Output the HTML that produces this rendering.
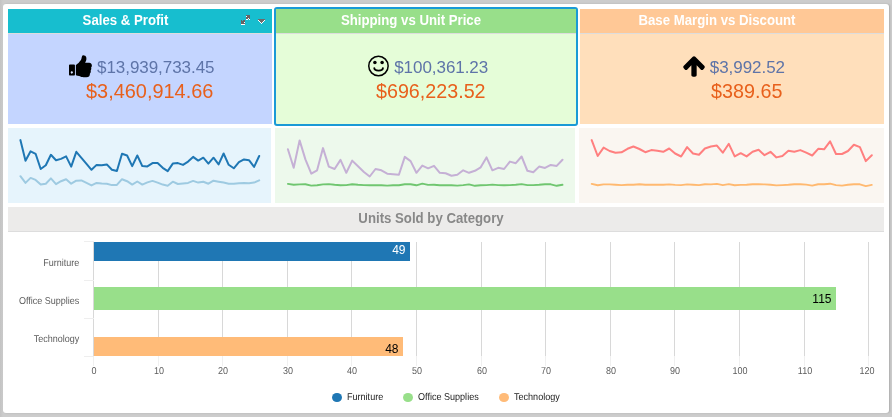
<!DOCTYPE html>
<html>
<head>
<meta charset="utf-8">
<title>Dashboard</title>
<style>
html,body{margin:0;padding:0;}
body{width:892px;height:417px;background:#ccc linear-gradient(90deg,#c3c3c3,#ccc 3px,#ccc);overflow:hidden;position:relative;font-family:"Liberation Sans",Arial,Helvetica,sans-serif;}
#card *{position:absolute;}
#card{position:absolute;left:3px;top:4px;width:886px;height:409px;background:#fff;border-radius:3px;box-shadow:1px 0 2px rgba(0,0,0,.16);}
#wrap{left:-3px;top:-4px;width:892px;height:417px;}
.hd{height:24px;top:9px;border-bottom:1px solid #ddd;}
.tt{top:0;left:0;height:24px;color:#fff;font-weight:bold;font-size:14px;line-height:23px;text-align:center;white-space:nowrap;transform:scaleX(.943);}
.bd{top:34px;height:90px;}
.sp{top:128px;height:75px;}
.v1{font-size:17px;line-height:20px;color:#5e74a8;white-space:nowrap;letter-spacing:-0.05px;}
.v2{font-size:21px;line-height:24px;color:#e8601c;white-space:nowrap;transform:scaleX(.948);transform-origin:0 0;}
svg{overflow:visible;left:0;top:0;}
svg *{position:static !important;}
.gl{top:242px;width:1px;height:114px;background:#d8d8d8;}
.gt{top:356px;width:1px;height:10px;background:#f0f0f0;}
.tk{left:84px;width:10px;height:1px;background:#eee;}
.xl,.yl,.lg{text-rendering:geometricPrecision;}
.xl{top:366px;width:40px;text-align:center;font-size:10px;line-height:12px;color:#5c5c5c;transform:scaleX(.9);}
.yl{left:0;width:79.3px;text-align:right;font-size:10px;line-height:12px;color:#5c5c5c;white-space:nowrap;transform:scaleX(.9);transform-origin:100% 50%;}
.bar{left:94px;}
.bv{font-size:12px;line-height:14px;text-align:right;width:40px;}
.lg{top:391.5px;font-size:10px;line-height:12px;color:#222;white-space:nowrap;transform:scaleX(.905);transform-origin:0 50%;}
.dot{top:392.8px;width:10px;height:9.3px;border-radius:50%;}
</style>
</head>
<body>
<div id="card"><div id="wrap">

<!-- panel 1 -->
<div class="hd" style="left:8px;width:264px;background:#17becf;"><div class="tt" style="width:235px;">Sales &amp; Profit</div></div>
<div class="bd" style="left:8px;width:264px;background:#c4d5ff;"></div>
<div class="v1" style="left:97px;top:58px;">$13,939,733.45</div>
<div class="v2" style="left:86px;top:78.6px;">$3,460,914.66</div>

<!-- panel 2 -->
<div style="left:274px;top:7px;width:300px;height:115px;border:2px solid #1a9ad6;border-radius:3px;background:#e5fdd8;"></div>
<div class="hd" style="left:276px;width:300px;background:#98df8a;"><div class="tt" style="width:270px;">Shipping vs Unit Price</div></div>
<div class="v1" style="left:394.2px;top:58px;">$100,361.23</div>
<div class="v2" style="left:376px;top:78.6px;transform:scaleX(.938);">$696,223.52</div>

<!-- panel 3 -->
<div class="hd" style="left:580px;width:304px;background:#ffc896;"><div class="tt" style="width:274px;">Base Margin vs Discount</div></div>
<div class="bd" style="left:580px;width:304px;background:#ffdfbb;"></div>
<div class="v1" style="left:709.8px;top:58px;">$3,992.52</div>
<div class="v2" style="left:711.4px;top:78.6px;transform:scaleX(.94);">$389.65</div>

<svg width="892" height="417" viewBox="0 0 892 417">
  <!-- expand icon -->
  <g shape-rendering="crispEdges">
    <path d="M246 16h1v1h-1zM248 18h1v1h-1zM246 19h1v1h-1zM247 19h1v1h-1zM249 19h1v1h-1zM244 22h1v1h-1zM241 24h1v1h-1zM242 24h1v1h-1zM243 24h1v1h-1zM244 24h1v1h-1zM258 20h1v1h-1zM264 20h1v1h-1zM259 21h1v1h-1zM263 21h1v1h-1zM260 22h1v1h-1zM262 22h1v1h-1zM261 23h1v1h-1z" fill="#fff"/>
    <path d="M246 15h1v1h-1zM247 15h1v1h-1zM248 15h1v1h-1zM249 15h1v1h-1zM247 16h1v1h-1zM248 16h1v1h-1zM249 16h1v1h-1zM246 17h1v1h-1zM247 17h1v1h-1zM248 17h1v1h-1zM249 17h1v1h-1zM246 18h1v1h-1zM247 18h1v1h-1zM249 18h1v1h-1zM241 20h1v1h-1zM243 20h1v1h-1zM244 20h1v1h-1zM241 21h1v1h-1zM242 21h1v1h-1zM243 21h1v1h-1zM244 21h1v1h-1zM241 22h1v1h-1zM242 22h1v1h-1zM243 22h1v1h-1zM241 23h1v1h-1zM242 23h1v1h-1zM243 23h1v1h-1zM244 23h1v1h-1z" fill="#686262"/>
    <path d="M258 19h1v1h-1zM259 19h1v1h-1zM260 19h1v1h-1zM261 19h1v1h-1zM262 19h1v1h-1zM263 19h1v1h-1zM264 19h1v1h-1zM259 20h1v1h-1zM260 20h1v1h-1zM261 20h1v1h-1zM262 20h1v1h-1zM263 20h1v1h-1zM260 21h1v1h-1zM261 21h1v1h-1zM262 21h1v1h-1zM261 22h1v1h-1z" fill="#6e6a6a"/>
  </g>
  <!-- thumbs up -->
  <g transform="translate(69,53.5) scale(0.0143)"><path d="M256 1344q0 26-19 45t-45 19-45-19-19-45 19-45 45-19 45 19 19 45zm160-512v640q0 26-19 45t-45 19h-288q-26 0-45-19t-19-45v-640q0-26 19-45t45-19h288q26 0 45 19t19 45zm1184 0q0 86-55 149 15 44 15 76 3 76-43 137 17 56 0 117-15 57-54 94 9 112-49 181-64 76-197 78h-129q-66 0-144-15.5t-121.5-29-120.5-39.5q-123-43-158-44-26-1-45-19.5t-19-44.5v-641q0-25 18-43.5t43-20.5q24-2 76-59t101-121q68-87 101-120 18-18 31-48t17.5-48.5 13.5-60.5q7-39 12.5-61t19.5-52 34-50q19-19 45-19 46 0 82.5 10.5t60 26 40 40.5 24 45 12 50 5 45 .5 39q0 38-9.5 76t-19 60-27.5 56q-3 6-10 18t-11 22-8 24h277q78 0 135 57t57 135z" fill="#000" fill-rule="evenodd"/></g>
  <circle cx="71.8" cy="72.3" r="1.05" fill="#d9e3ff"/>
  <!-- smiley -->
  <g fill="none" stroke="#000" stroke-linecap="round">
    <circle cx="378.45" cy="66" r="9.7" stroke-width="1.5"/>
    <path d="M374.3 68.1a4.3 2.5 0 0 0 8.6 0" stroke-width="1.9"/>
  </g>
  <circle cx="374.9" cy="62.4" r="1.75"/><circle cx="382.1" cy="62.4" r="1.75"/>
  <!-- arrow up -->
  <g transform="translate(681.65,53.7) scale(0.0138)"><path d="M1675 971q0 51-37 90l-75 75q-38 38-91 38-54 0-90-38l-294-293v704q0 52-37.5 84.5t-90.5 32.5h-128q-53 0-90.5-32.5t-37.5-84.5v-704l-294 293q-36 38-90 38t-90-38l-75-75q-38-38-38-90 0-53 38-91l651-651q35-37 90-37 54 0 91 37l651 651q37 39 37 91z"/></g>
</svg>

<!-- spark panels -->
<div class="sp" style="left:8px;width:263px;background:#e6f4fc;"></div>
<div class="sp" style="left:275px;width:300px;background:#edf9ec;"></div>
<div class="sp" style="left:579px;width:305px;background:#faf6f1;"></div>
<svg width="892" height="417" viewBox="0 0 892 417" fill="none" stroke-width="2" stroke-linejoin="round" stroke-linecap="round">
  <polyline stroke="#1f77b4" points="20.4,140.1 25.5,160.7 30.6,151.3 35.6,153.8 40.7,169 45.8,165.3 50.9,154.8 56,160.2 61,158.9 66.1,156.4 71.2,166.6 76.3,151.8 81.4,157.8 86.5,163.8 91.5,169.8 96.6,164.9 101.7,165.3 106.8,164.4 111.9,169.8 116.9,171 122,153.7 127.1,155.5 132.2,166.1 137.3,155.5 142.3,166.1 147.4,166.4 152.5,163.1 157.6,163.1 162.7,167.8 167.7,171.1 172.8,163.6 177.9,163.1 183,164.9 188.1,161.6 193.1,156.9 198.2,160.6 203.3,157.7 208.4,163.6 213.5,157.7 218.6,164.4 223.6,153.5 228.7,164.8 233.8,168.3 238.9,162.2 244,159.4 249,160.2 254.1,166.9 259.2,156"/>
  <polyline stroke="#9ecae1" points="20.4,176.2 25.5,182.9 30.6,177.9 35.6,179.9 40.7,184.6 45.8,183.7 50.9,178.4 56,184.1 61,181.2 66.1,179.2 71.2,183.7 76.3,180.7 81.4,180.4 86.5,182.9 91.5,185.4 96.6,182.9 101.7,183.4 106.8,183.7 111.9,185.1 116.9,184.9 122,179.2 127.1,181.2 132.2,184.6 137.3,181.5 142.3,184.6 147.4,182.4 152.5,180.9 157.6,182.6 162.7,184.6 167.7,185.7 172.8,181.7 177.9,184 183,183.4 188.1,182.9 193.1,180.9 198.2,182.6 203.3,181.7 208.4,183.7 213.5,180.7 218.6,181.7 223.6,182.6 228.7,183.7 233.8,183.7 238.9,183.2 244,182.9 249,183.2 254.1,182.6 259.2,180.4"/>
  <polyline stroke="#c5b0d5" points="287.9,149.3 293.7,167.8 299.6,140.4 305.4,159.4 311.3,173.7 317.1,170.3 323,148.1 328.8,166.6 334.6,169 340.5,159.9 346.3,172.8 352.2,160.6 358,166.3 363.9,172 369.7,176.5 375.5,169 381.4,170.3 387.2,173.7 393.1,174.2 398.9,174.8 404.8,156.9 410.6,161.1 416.4,172.8 422.3,165.6 428.1,168.3 434,165.8 439.8,172.8 445.6,173.3 451.5,175.7 457.3,174.8 463.2,170.3 469,172.8 474.9,170.8 480.7,167.3 486.5,157.4 492.4,170.3 498.2,167.8 504.1,169 509.9,161.6 515.8,163.2 521.6,156.5 527.4,170.8 533.3,172.3 539.1,166.6 545,167.9 550.8,164.9 556.7,165.9 562.5,159.7"/>
  <polyline stroke="#70c670" stroke-width="1.9" transform="translate(0,0.2)" points="287.9,183.7 293.7,184.6 299.6,184.2 305.4,184.1 311.3,185.4 317.1,185.1 323,184.2 328.8,183.9 334.6,184.6 340.5,185.1 346.3,184.9 352.2,184.1 358,184.6 363.9,184.9 369.7,185.1 375.5,185.1 381.4,185.1 387.2,185.4 393.1,185.1 398.9,185.1 404.8,184.1 410.6,184.1 416.4,185.1 422.3,183.4 428.1,184.7 434,184.6 439.8,185.1 445.6,184.9 451.5,185.1 457.3,185.4 463.2,184.9 469,184.2 474.9,185.6 480.7,185.1 486.5,184.9 492.4,184.4 498.2,184.9 504.1,185.1 509.9,184.9 515.8,184.6 521.6,183.9 527.4,184.9 533.3,184.9 539.1,184.6 545,184.1 550.8,184.1 556.7,185.6 562.5,184.6"/>
  <polyline stroke="#ff7f7f" points="591.7,140.1 597.7,156 603.6,147.6 609.6,151 615.5,152.8 621.5,152.3 627.5,148.8 633.4,146.5 639.4,149 645.3,152.2 651.3,150.1 657.3,150.8 663.2,151.8 669.2,148.5 675.1,153.5 681.1,156.5 687.1,147.1 693,153.5 699,154.7 704.9,148.5 710.9,146.5 716.9,145.6 722.8,152.7 728.8,143.8 734.7,156.4 740.7,153.2 746.6,156.4 752.6,151.7 758.6,149.8 764.5,155.2 770.5,151.8 776.4,157.4 782.4,156 788.4,150.8 794.3,151.8 800.3,150.1 806.2,152.7 812.2,155.5 818.2,148.8 824.1,149.3 830.1,141.3 836,154 842,154 848,151 853.9,144.8 859.9,147.1 865.8,161.1 871.8,155.2"/>
  <polyline stroke="#ffb970" stroke-width="1.9" transform="translate(0,0.2)" points="591.7,183.7 597.7,185.1 603.6,184.2 609.6,184.2 615.5,184.6 621.5,184.9 627.5,184.6 633.4,184.6 639.4,184.1 645.3,184.6 651.3,184.6 657.3,184.6 663.2,184.6 669.2,184.2 675.1,184.7 681.1,184.9 687.1,184.2 693,184.6 699,184.9 704.9,184.1 710.9,184.2 716.9,183.7 722.8,184.9 728.8,183.9 734.7,185.1 740.7,184.7 746.6,184.6 752.6,184.1 758.6,184.1 764.5,184.2 770.5,184.6 776.4,185.2 782.4,184.9 788.4,184.6 794.3,184.1 800.3,184.1 806.2,184.4 812.2,185.4 818.2,184.1 824.1,184.1 830.1,183.5 836,184.9 842,185.4 848,184.6 853.9,184.1 859.9,184.1 865.8,185.9 871.8,184.7"/>
</svg>

<!-- chart title -->
<div style="left:8px;top:207px;width:876px;height:24px;background:#ecebea;border-bottom:1px solid #ddd;"><div class="tt" style="width:846px;color:#888;">Units Sold by Category</div></div>

<!-- chart -->
<div class="gl" style="left:93px;"></div><div class="gt" style="left:93px;"></div>
<div class="gl" style="left:158px;"></div><div class="gt" style="left:158px;"></div>
<div class="gl" style="left:222px;"></div><div class="gt" style="left:222px;"></div>
<div class="gl" style="left:287px;"></div><div class="gt" style="left:287px;"></div>
<div class="gl" style="left:351px;"></div><div class="gt" style="left:351px;"></div>
<div class="gl" style="left:416px;"></div><div class="gt" style="left:416px;"></div>
<div class="gl" style="left:481px;"></div><div class="gt" style="left:481px;"></div>
<div class="gl" style="left:545px;"></div><div class="gt" style="left:545px;"></div>
<div class="gl" style="left:610px;"></div><div class="gt" style="left:610px;"></div>
<div class="gl" style="left:674px;"></div><div class="gt" style="left:674px;"></div>
<div class="gl" style="left:739px;"></div><div class="gt" style="left:739px;"></div>
<div class="gl" style="left:804px;"></div><div class="gt" style="left:804px;"></div>
<div class="gl" style="left:868px;"></div><div class="gt" style="left:868px;"></div>
<div class="tk" style="top:241px;"></div>
<div class="tk" style="top:280px;"></div>
<div class="tk" style="top:318px;"></div>
<div class="tk" style="top:356px;"></div>
<div class="bar" style="top:242px;height:19px;width:316px;background:#1f77b4;"></div>
<div class="bar" style="top:287px;height:23px;width:742px;background:#98df8a;"></div>
<div class="bar" style="top:337px;height:19px;width:309px;background:#ffbb78;"></div>
<div class="bv" style="left:365.5px;top:243px;color:#fff;">49</div>
<div class="bv" style="left:791.5px;top:292px;color:#000;">115</div>
<div class="bv" style="left:358.5px;top:342px;color:#000;">48</div>
<div class="yl" style="top:258px;">Furniture</div>
<div class="yl" style="top:296px;">Office Supplies</div>
<div class="yl" style="top:334px;">Technology</div>
<div class="xl" style="left:73.5px;">0</div>
<div class="xl" style="left:138.5px;">10</div>
<div class="xl" style="left:202.5px;">20</div>
<div class="xl" style="left:267.5px;">30</div>
<div class="xl" style="left:331.5px;">40</div>
<div class="xl" style="left:396.5px;">50</div>
<div class="xl" style="left:461.5px;">60</div>
<div class="xl" style="left:525.5px;">70</div>
<div class="xl" style="left:590.5px;">80</div>
<div class="xl" style="left:654.5px;">90</div>
<div class="xl" style="left:719.5px;">100</div>
<div class="xl" style="left:784.5px;">110</div>
<div class="xl" style="left:846.7px;">120</div>

<!-- legend -->
<div class="dot" style="left:332px;background:#1f77b4;"></div><div class="lg" style="left:347px;">Furniture</div>
<div class="dot" style="left:403px;background:#98df8a;"></div><div class="lg" style="left:418px;">Office Supplies</div>
<div class="dot" style="left:498.5px;background:#ffbb78;"></div><div class="lg" style="left:514px;">Technology</div>

</div></div>
</body>
</html>
